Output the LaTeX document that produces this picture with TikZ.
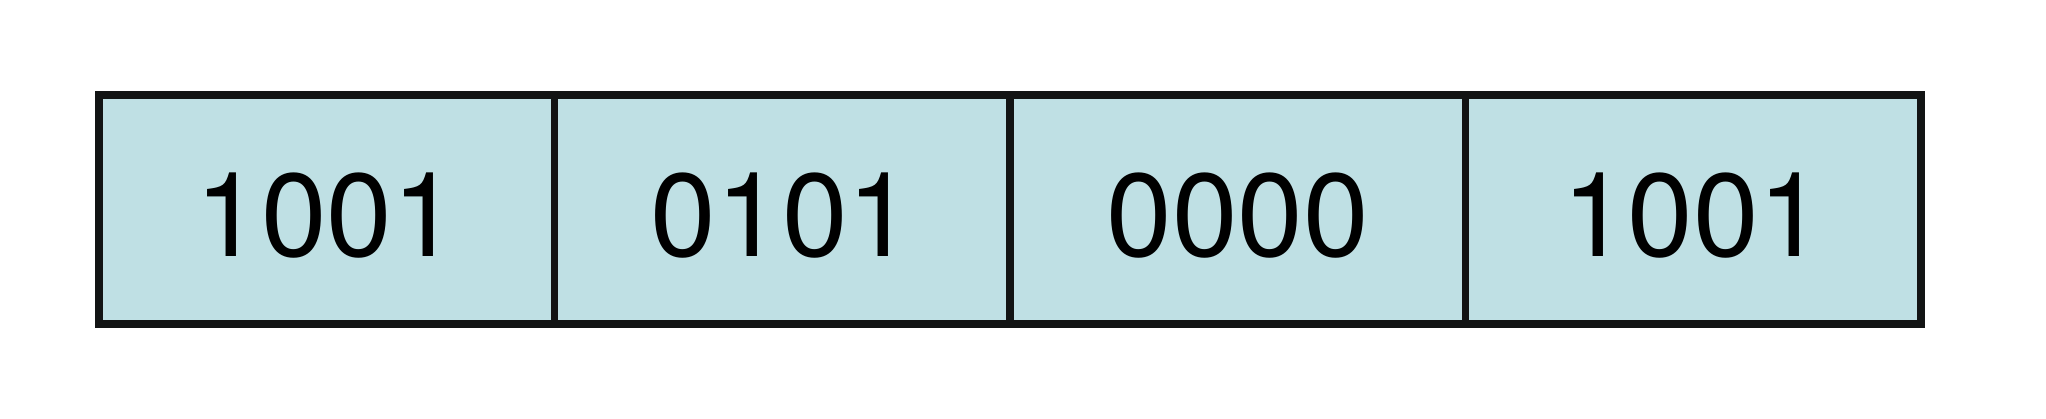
\documentclass[tikz,border=0pt]{standalone}
\usepackage{fontspec}
\setmainfont{TeX Gyre Heros}
\definecolor{cellfill}{RGB}{191,224,228}
\definecolor{cellline}{RGB}{18,20,20}
\begin{document}
\begin{tikzpicture}[x=1pt,y=1pt,
  cell/.style={draw=cellline, fill=cellfill, line width=3.6pt, rectangle,
    minimum width=227.75pt, minimum height=114.5pt, inner sep=0pt,
    font=\fontsize{59}{62}\selectfont},
  celltext/.style={font=\fontsize{59}{62}\selectfont, inner sep=0pt}]
\useasboundingbox (0,0) rectangle (1023,209);
\node[cell] (c1) at (163.4,104.25) {};
\node[cell] (c2) at (391.1,104.25) {};
\node[cell] (c3) at (618.9,104.25) {};
\node[cell] (c4) at (846.6,104.25) {};
\node[celltext] (t1) at ([yshift=-3pt]c1.center) {1001};
\node[celltext] (t2) at ([yshift=-3pt]c2.center) {0101};
\node[celltext] (t3) at ([yshift=-3pt]c3.center) {0000};
\node[celltext] (t4) at ([yshift=-3pt]c4.center) {1001};
\end{tikzpicture}
\end{document}
